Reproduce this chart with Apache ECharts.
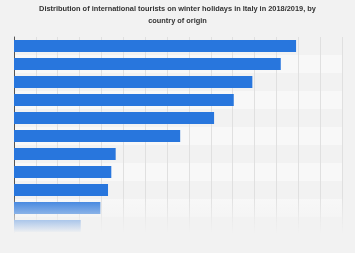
<!DOCTYPE html>
<html lang="en">
<head>
    <meta charset="UTF-8">
    <title>Winter tourists Italy</title>
    <script src="https://cdn.jsdelivr.net/npm/echarts@6/dist/echarts.min.js"></script>
    <style>
        html, body { margin: 0; padding: 0; background: #f2f2f2; }
        #main { width: 355px; height: 253px; }
    </style>
</head>
<body>
<div id="main"></div>
<script type="text/javascript">
    // countries (labels hidden in the original)
    var countries = ['Germany', 'United Kingdom', 'Poland', 'Russia', 'Netherlands', 'Czech Republic',
        'Belgium', 'Switzerland', 'France', 'Austria', 'Romania'];
    // share of tourists, %
    var shares = [12.9, 12.2, 10.9, 10.05, 9.15, 7.6, 4.65, 4.45, 4.3, 3.95, 3.05];

    var myChart = echarts.init(document.getElementById('main'));

    var option = {
        backgroundColor: '#f2f2f2',
        animation: false,
        title: {
            text: 'Distribution of international tourists on winter holidays in Italy in 2018/2019, by\ncountry of origin',
            left: 'center',
            top: 3,
            padding: 0,
            textStyle: {
                fontFamily: 'Liberation Sans',
                fontSize: 7.4,
                fontWeight: 'bold',
                color: '#333',
                lineHeight: 12
            }
        },
        grid: {
            left: 14,
            right: 13,
            top: 37,
            bottom: 18
        },
        xAxis: {
            type: 'value',
            min: 0,
            max: 15,
            interval: 1,
            axisLabel: { show: false },
            axisLine: { show: false },
            axisTick: { show: false },
            splitLine: {
                show: true,
                lineStyle: { color: '#e0e0e0', width: 1 }
            }
        },
        yAxis: {
            type: 'category',
            inverse: true,
            data: countries,
            axisLabel: { show: false },
            axisTick: { show: false },
            axisLine: { show: true, lineStyle: { color: '#555', width: 1 } },
            splitArea: {
                show: true,
                areaStyle: { color: ['#f2f2f2', '#f8f8f8'] }
            }
        },
        series: [{
            type: 'bar',
            data: shares,
            barWidth: 12,
            itemStyle: { color: '#2876dd' }
        }],
        // fade-out at the bottom of the chart
        graphic: [{
            type: 'rect',
            left: 0,
            top: 196,
            shape: { width: 355, height: 57 },
            style: {
                fill: new echarts.graphic.LinearGradient(0, 0, 0, 1, [
                    { offset: 0, color: 'rgba(242,242,242,0)' },
                    { offset: 0.65, color: 'rgba(242,242,242,1)' },
                    { offset: 1, color: 'rgba(242,242,242,1)' }
                ])
            },
            z: 100
        }]
    };

    myChart.setOption(option);
</script>
</body>
</html>
